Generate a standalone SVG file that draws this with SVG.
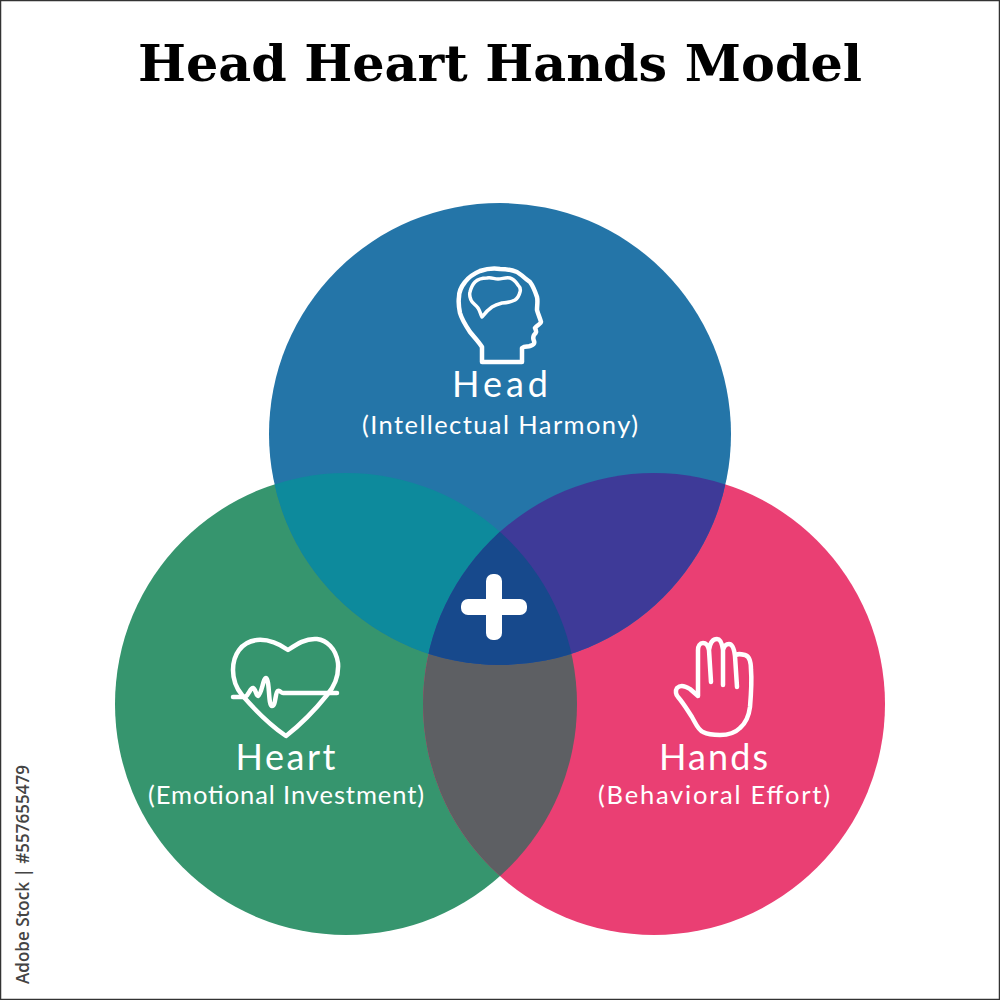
<svg xmlns="http://www.w3.org/2000/svg" width="1000" height="1000" viewBox="0 0 1000 1000">
<style>
.t{font-family:"Lato","Open Sans",sans-serif;fill:#fff;text-anchor:middle}
.n{font-size:36px}
.s{font-size:25.500px}
.i{fill:none;stroke:#fff;stroke-width:4.5;stroke-linejoin:round;stroke-linecap:round}
</style>
<defs>
<clipPath id="cH"><circle cx="500" cy="434" r="231"/></clipPath>
<clipPath id="cL"><circle cx="346" cy="704" r="231"/></clipPath>
</defs>
<rect width="1000" height="1000" fill="#fff"/>
<rect x=".5" y=".5" width="999" height="999" fill="none" stroke="#333" stroke-width="1.5"/>
<text x="500" y="81" text-anchor="middle" font-family="'DejaVu Serif','Liberation Serif',serif" font-weight="700" font-size="50" fill="#000" textLength="724" lengthAdjust="spacingAndGlyphs">Head Heart Hands Model</text>
<g id="connectors"/>
<g id="circles">
<circle cx="346" cy="704" r="231" fill="#36956e"/>
<circle cx="654" cy="704" r="231" fill="#ea3f73"/>
<circle cx="500" cy="434" r="231" fill="#2475a8"/>
<g clip-path="url(#cL)"><circle cx="654" cy="704" r="231" fill="#5d5f63"/></g>
<g clip-path="url(#cH)"><circle cx="346" cy="704" r="231" fill="#0d8a9c"/><circle cx="654" cy="704" r="231" fill="#3e3a98"/><g clip-path="url(#cL)"><circle cx="654" cy="704" r="231" fill="#17498c"/></g></g>
</g>
<g id="head">
<path class="i" d="M482 362H522V348C525 346 528 347 530 346C533 345 535 344 534 341C533 339 533 337 534 335C536 333 537 332 535 328C537 325 541 324 541 322C540 318 538 314 537 310C537 305 538 301 537 297C535 291 533 286 530 282L526 279C523 276 520 274 517 272C512 270 506 269 500 269C493 268 486 269 480 271C473 274 468 278 465 282C461 287 459 292 459 297C458 303 459 308 460 313C462 320 466 326 470 332C475 338 479 342 482 347Z"/>
<path class="i" style="stroke-width:3.5" d="M482 317C480 313 480 311 478 308C476 305 472 303 471 300C470 297 469 295 470 292C471 288 472 285 475 282C478 279 482 278 487 278C491 277 494 279 498 279C502 279 506 277 510 278C514 279 516 282 518 285C520 287 521 289 520 292C519 296 518 298 515 300C511 302 507 303 502 303C498 304 495 305 492 307C489 309 485 313 482 317Z"/>
<text class="t n" x="500" y="397" textLength="96">Head</text>
<text class="t s" x="500" y="434" textLength="276">(Intellectual Harmony)</text>
</g>
<g id="heart">
<path class="i" d="M288 650C278 643 268 639 257 640C241 642 233 655 233 670C233 680 237 689 242 695C255 710 270 725 286 736C300 725 315 710 327 695C334 687 339 676 338 663C336 648 326 640 317 639C306 638 297 644 288 650Z"/>
<path class="i" d="M233 697L245 697C249 695 250 688 253 688C256 689 256 696 258 696C262 694 263 678 266 678C270 680 268 706 272 706C276 706 275 692 278 691C280 690 281 693 283 693L337 693"/>
<text class="t n" x="285.500" y="770" textLength="100">Heart</text>
<text class="t s" x="286" y="804" textLength="276">(Emotional Investment)</text>
</g>
<g id="hands">
<path class="i" d="M698 696L690 689C684 685 680 685 677 688C675 691 676 695 678 697C684 704 688 711 692 717C696 724 698 730 703 732C709 735 714 735 720 735C729 735 735 733 740 728C747 722 749 715 750 707C751 695 752 682 751 670C751 662 749 656 745 655C741 654 737 653 735 656L737 687L735 656C734 648 732 644 729 644C726 644 724 646 723 650V685V650C722 643 720 639 717 639C713 639 710 643 709 650L711 682L709 650C708 645 706 643 703 643C700 643 698 646 698 650Z"/>
<text class="t n" x="713.500" y="770" textLength="109">Hands</text>
<text class="t s" x="714" y="804" textLength="232">(Behavioral Effort)</text>
</g>
<g id="plus" fill="#fff">
<rect x="461" y="599" width="66" height="16" rx="7"/>
<rect x="486" y="574" width="16" height="66" rx="7"/>
</g>
<text transform="translate(29 984) rotate(-90)" font-family="'Open Sans','Noto Sans',sans-serif" font-size="18" font-weight="600" fill="#444" textLength="219" lengthAdjust="spacingAndGlyphs">Adobe Stock | #557655479</text>
</svg>
